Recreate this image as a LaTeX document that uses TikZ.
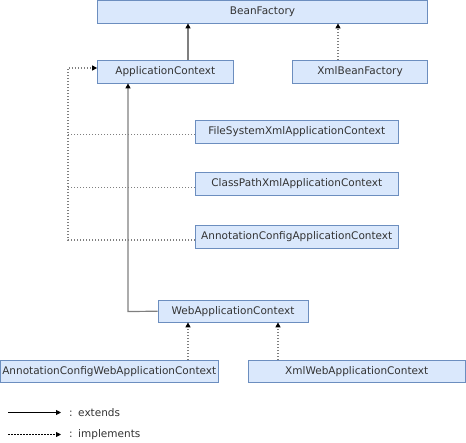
\documentclass[tikz,border=0pt]{standalone}
\usepackage{fontspec}
\setmainfont{DejaVu Sans}
\usetikzlibrary{arrows.meta}
\definecolor{boxfill}{HTML}{DAE8FC}
\definecolor{boxline}{HTML}{6C8EBF}
\definecolor{txt}{HTML}{333333}
\definecolor{conn}{HTML}{7F7F7F}
\begin{document}
\begin{tikzpicture}[x=1pt,y=-1pt,
  cls/.style={draw=boxline,fill=boxfill,line width=0.8pt,inner sep=0pt,text=txt,font=\fontsize{10.5}{12}\selectfont},
  ext/.style={draw=conn,line width=1.2pt,-{Triangle[length=5pt,width=5pt,color=black]}},
  impl/.style={draw=conn,line width=1.2pt,dash pattern=on 1.5pt off 1.5pt,-{Triangle[length=5pt,width=5pt,color=black]}},
  impline/.style={draw=conn,line width=1.2pt,dash pattern=on 1.5pt off 1.5pt},
  lg/.style={text=txt,font=\fontsize{10.5}{12}\selectfont,anchor=west,inner sep=0pt}]
\useasboundingbox (0,0) rectangle (466,443);
\newcommand{\clsbox}[6]{\node[cls,minimum width=#4-#2,minimum height=#5-#3] (#1) at ({(#2+#4)/2},{(#3+#5)/2}) {#6};}
\clsbox{bf}{97.5}{0.5}{427.5}{23}{BeanFactory}
\clsbox{ac}{97.5}{60.5}{233}{83}{ApplicationContext}
\clsbox{xbf}{292.5}{60.5}{427.5}{83}{XmlBeanFactory}
\clsbox{fs}{195.5}{120.5}{398}{143}{FileSystemXmlApplicationContext}
\clsbox{cp}{195.5}{172.5}{398}{195.5}{ClassPathXmlApplicationContext}
\clsbox{aca}{195.5}{225.5}{398}{248}{AnnotationConfigApplicationContext}
\clsbox{wac}{158}{300.5}{308}{322}{WebApplicationContext}
\clsbox{acw}{0.5}{360.5}{218}{382.5}{AnnotationConfigWebApplicationContext}
\clsbox{xw}{248}{360.5}{465.5}{382.5}{XmlWebApplicationContext}
% extends
\draw[ext] (ac.north -| 188,0) -- (bf.south -| 188,0);
\draw[ext] (wac.west) -- (128,311.5) -- (ac.south -| 128,0);
% implements
\draw[impl] (xbf.north -| 338,0) -- (bf.south -| 338,0);
\coordinate (lx) at (68,240);
\draw[impl] (aca.west |- 0,240) -- (lx) -- (68,68) -- (ac.west |- 0,68);
\draw[impline] (fs.west |- 0,134.5) -- (68,134.5);
\draw[impline] (cp.west |- 0,187.5) -- (68,187.5);
\draw[impl] (acw.north -| 188,0) -- (wac.south -| 188,0);
\draw[impl] (xw.north -| 278,0) -- (wac.south -| 278,0);
% legend
\coordinate (l1a) at (8,412.5);
\coordinate (l1b) at (61,412.5);
\coordinate (l2a) at (8,434.5);
\coordinate (l2b) at (61,434.5);
\draw[line width=0.8pt,-{Triangle[length=5pt,width=5pt]}] (l1a) -- (l1b);
\draw[line width=0.8pt,dash pattern=on 1.5pt off 1.5pt,-{Triangle[length=5pt,width=5pt]}] (l2a) -- (l2b);
\node[lg] (le) at (69,412.5) {:\hspace{5.5pt}extends};
\node[lg] (li) at (69,434.5) {:\hspace{5.5pt}implements};
\end{tikzpicture}
\end{document}
